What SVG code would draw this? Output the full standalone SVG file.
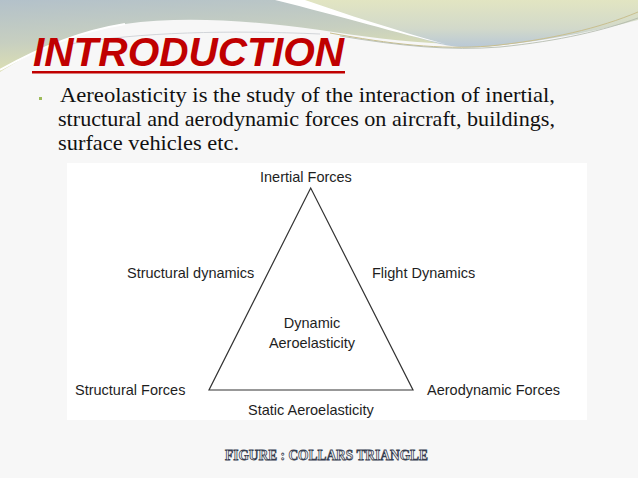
<svg xmlns="http://www.w3.org/2000/svg" width="638" height="478" viewBox="0 0 638 478">
<defs>
<linearGradient id="gl" x1="0" y1="0" x2="0.3" y2="1">
<stop offset="0" stop-color="#b3c1ca"/>
<stop offset="0.55" stop-color="#c7cfc0"/>
<stop offset="1" stop-color="#e1e3b0"/>
</linearGradient>
<linearGradient id="gr" x1="0" y1="0" x2="0" y2="1">
<stop offset="0" stop-color="#e2e5c2"/>
<stop offset="0.6" stop-color="#d2d9ca"/>
<stop offset="1" stop-color="#b9c8d6"/>
</linearGradient>
<style>
.lbl{font-family:"Liberation Sans",Arial,sans-serif;font-size:14.5px;fill:#1e1e1e}
.body{font-family:"Liberation Serif","Times New Roman",serif;font-size:21px;fill:#111}
.cap{font-family:"Liberation Serif","Times New Roman",serif;font-weight:bold;font-size:14.5px;fill:#f4f4f4;stroke:#363e50;stroke-width:0.8}
</style>
</defs>
<rect width="638" height="478" fill="#f7f7f7"/>
<!-- header swoosh -->
<path d="M0,0 H300 C340,14 390,30 450,44 C400,42 360,36 320,30 C250,20 180,16 125,24 C75,32 35,50 0,72 Z" fill="url(#gl)"/>
<path d="M300,0 H638 V20 C600,30 545,42 480,47 C460,48 450,46 440,44 C390,30 340,14 300,0 Z" fill="url(#gr)"/>
<path d="M275,0 H305 C345,14 395,30 445,44 C400,34 340,16 275,0 Z" fill="#ffffff"/>
<path d="M330,33 C390,44 440,50 490,46 C550,40 600,28 638,12" fill="none" stroke="#c9bf8e" stroke-width="1"/>
<path d="M340,36 C400,46 450,51 500,47 C560,41 605,30 638,18" fill="none" stroke="#aeb6a8" stroke-width="0.8"/>
<path d="M70,44 C140,32 230,30 320,34" fill="none" stroke="#c8ccd0" stroke-width="0.8"/>
<path d="M0,70 C35,50 75,32 125,24" fill="none" stroke="#ffffff" stroke-width="2"/>
<!-- title -->
<g id="title">
<text x="33" y="66" font-family="'Liberation Sans',Arial,sans-serif" font-weight="bold" font-style="italic" font-size="40" fill="#c00000" textLength="311" lengthAdjust="spacingAndGlyphs">INTRODUCTION</text>
<rect x="32" y="71" width="313" height="2.5" fill="#c00000"/>
</g>
<!-- body -->
<g id="body">
<rect x="39" y="97" width="3" height="3" fill="#9dbb5a"/>
<text class="body" x="60" y="102" textLength="495" lengthAdjust="spacingAndGlyphs">Aereolasticity is the study of the interaction of inertial,</text>
<text class="body" x="58" y="126" textLength="497" lengthAdjust="spacingAndGlyphs">structural and aerodynamic forces on aircraft, buildings,</text>
<text class="body" x="58" y="150" textLength="181" lengthAdjust="spacingAndGlyphs">surface vehicles etc.</text>
</g>
<!-- figure -->
<rect x="67" y="163" width="520" height="257" fill="#ffffff"/>
<g id="connectors">
<polygon points="310.7,188 209,390 413,390" fill="none" stroke="#333" stroke-width="1.2"/>
</g>
<g id="n-inertial"><text class="lbl" x="260" y="182">Inertial Forces</text></g>
<g id="n-structdyn"><text class="lbl" x="127" y="278">Structural dynamics</text></g>
<g id="n-flight"><text class="lbl" x="372" y="278">Flight Dynamics</text></g>
<g id="n-dynamic"><text class="lbl" x="312" y="328" text-anchor="middle">Dynamic</text><text class="lbl" x="312" y="348" text-anchor="middle">Aeroelasticity</text></g>
<g id="n-structforces"><text class="lbl" x="75" y="395">Structural Forces</text></g>
<g id="n-aero"><text class="lbl" x="427" y="395">Aerodynamic Forces</text></g>
<g id="n-static"><text class="lbl" x="248" y="415">Static Aeroelasticity</text></g>
<!-- caption -->
<g id="caption"><text class="cap" x="225" y="460" textLength="203" lengthAdjust="spacingAndGlyphs">FIGURE : COLLARS TRIANGLE</text></g>
</svg>
